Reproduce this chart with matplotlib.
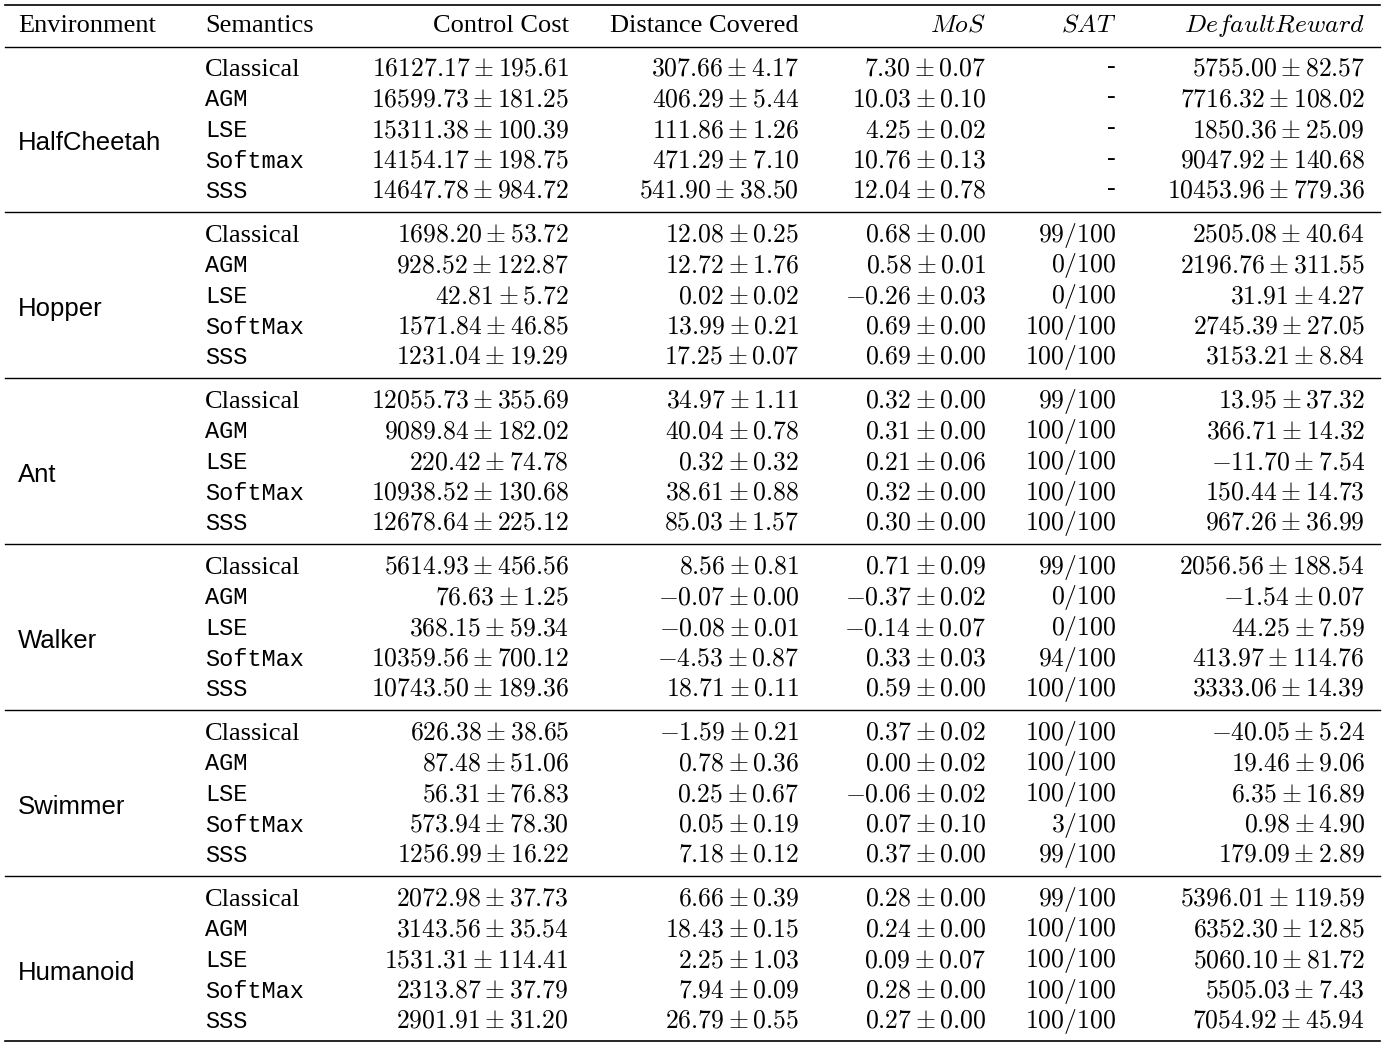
import matplotlib.pyplot as plt

plt.rcParams['mathtext.fontset'] = 'cm'

environments = ["HalfCheetah", "Hopper", "Ant", "Walker", "Swimmer", "Humanoid"]
semantics = [
    ["Classical", "AGM", "LSE", "Softmax", "SSS"],
    ["Classical", "AGM", "LSE", "SoftMax", "SSS"],
    ["Classical", "AGM", "LSE", "SoftMax", "SSS"],
    ["Classical", "AGM", "LSE", "SoftMax", "SSS"],
    ["Classical", "AGM", "LSE", "SoftMax", "SSS"],
    ["Classical", "AGM", "LSE", "SoftMax", "SSS"],
]
control_cost = [
    ["16127.17 \\pm 195.61", "16599.73 \\pm 181.25", "15311.38 \\pm 100.39", "14154.17 \\pm 198.75", "14647.78 \\pm 984.72"],
    ["1698.20 \\pm 53.72", "928.52 \\pm 122.87", "42.81 \\pm 5.72", "1571.84 \\pm 46.85", "1231.04 \\pm 19.29"],
    ["12055.73 \\pm 355.69", "9089.84 \\pm 182.02", "220.42 \\pm 74.78", "10938.52 \\pm 130.68", "12678.64 \\pm 225.12"],
    ["5614.93 \\pm 456.56", "76.63 \\pm 1.25", "368.15 \\pm 59.34", "10359.56 \\pm 700.12", "10743.50 \\pm 189.36"],
    ["626.38 \\pm 38.65", "87.48 \\pm 51.06", "56.31 \\pm 76.83", "573.94 \\pm 78.30", "1256.99 \\pm 16.22"],
    ["2072.98 \\pm 37.73", "3143.56 \\pm 35.54", "1531.31 \\pm 114.41", "2313.87 \\pm 37.79", "2901.91 \\pm 31.20"],
]
distance = [
    ["307.66 \\pm 4.17", "406.29 \\pm 5.44", "111.86 \\pm 1.26", "471.29 \\pm 7.10", "541.90 \\pm 38.50"],
    ["12.08 \\pm 0.25", "12.72 \\pm 1.76", "0.02 \\pm 0.02", "13.99 \\pm 0.21", "17.25 \\pm 0.07"],
    ["34.97 \\pm 1.11", "40.04 \\pm 0.78", "0.32 \\pm 0.32", "38.61 \\pm 0.88", "85.03 \\pm 1.57"],
    ["8.56 \\pm 0.81", "-0.07 \\pm 0.00", "-0.08 \\pm 0.01", "-4.53 \\pm 0.87", "18.71 \\pm 0.11"],
    ["-1.59 \\pm 0.21", "0.78 \\pm 0.36", "0.25 \\pm 0.67", "0.05 \\pm 0.19", "7.18 \\pm 0.12"],
    ["6.66 \\pm 0.39", "18.43 \\pm 0.15", "2.25 \\pm 1.03", "7.94 \\pm 0.09", "26.79 \\pm 0.55"],
]
mos = [
    ["7.30 \\pm 0.07", "10.03 \\pm 0.10", "4.25 \\pm 0.02", "10.76 \\pm 0.13", "12.04 \\pm 0.78"],
    ["0.68 \\pm 0.00", "0.58 \\pm 0.01", "-0.26 \\pm 0.03", "0.69 \\pm 0.00", "0.69 \\pm 0.00"],
    ["0.32 \\pm 0.00", "0.31 \\pm 0.00", "0.21 \\pm 0.06", "0.32 \\pm 0.00", "0.30 \\pm 0.00"],
    ["0.71 \\pm 0.09", "-0.37 \\pm 0.02", "-0.14 \\pm 0.07", "0.33 \\pm 0.03", "0.59 \\pm 0.00"],
    ["0.37 \\pm 0.02", "0.00 \\pm 0.02", "-0.06 \\pm 0.02", "0.07 \\pm 0.10", "0.37 \\pm 0.00"],
    ["0.28 \\pm 0.00", "0.24 \\pm 0.00", "0.09 \\pm 0.07", "0.28 \\pm 0.00", "0.27 \\pm 0.00"],
]
sat = [
    ["-", "-", "-", "-", "-"],
    ["99/100", "0/100", "0/100", "100/100", "100/100"],
    ["99/100", "100/100", "100/100", "100/100", "100/100"],
    ["99/100", "0/100", "0/100", "94/100", "100/100"],
    ["100/100", "100/100", "100/100", "3/100", "99/100"],
    ["99/100", "100/100", "100/100", "100/100", "100/100"],
]
reward = [
    ["5755.00 \\pm 82.57", "7716.32 \\pm 108.02", "1850.36 \\pm 25.09", "9047.92 \\pm 140.68", "10453.96 \\pm 779.36"],
    ["2505.08 \\pm 40.64", "2196.76 \\pm 311.55", "31.91 \\pm 4.27", "2745.39 \\pm 27.05", "3153.21 \\pm 8.84"],
    ["13.95 \\pm 37.32", "366.71 \\pm 14.32", "-11.70 \\pm 7.54", "150.44 \\pm 14.73", "967.26 \\pm 36.99"],
    ["2056.56 \\pm 188.54", "-1.54 \\pm 0.07", "44.25 \\pm 7.59", "413.97 \\pm 114.76", "3333.06 \\pm 14.39"],
    ["-40.05 \\pm 5.24", "19.46 \\pm 9.06", "6.35 \\pm 16.89", "0.98 \\pm 4.90", "179.09 \\pm 2.89"],
    ["5396.01 \\pm 119.59", "6352.30 \\pm 12.85", "5060.10 \\pm 81.72", "5505.03 \\pm 7.43", "7054.92 \\pm 45.94"],
]

W, H = 1383, 1047
fig = plt.figure(figsize=(W / 100, H / 100), dpi=100)
ax = fig.add_axes([0, 0, 1, 1])
ax.set_xlim(0, W)
ax.set_ylim(H, 0)
ax.axis('off')

fs = 18.5
serif = 'Liberation Serif'
sans = 'Liberation Sans'
mono = 'Liberation Mono'
bl = 8  # baseline offset below row centre


def put(x, y, s, ha, **kw):
    ax.text(x, y + bl, s, fontsize=kw.pop('fontsize', fs), va='baseline', ha=ha, **kw)


# header
hy = 24
put(18, hy, "Environment", 'left', family=serif, fontsize=fs + 0.5)
put(205, hy, "Semantics", 'left', family=serif, fontsize=fs + 0.5)
put(569, hy, "Control Cost", 'right', family=serif, fontsize=fs + 0.5)
put(799, hy, "Distance Covered", 'right', family=serif, fontsize=fs + 0.5)
put(986, hy, "$MoS$", 'right')
put(1116, hy, "$SAT$", 'right')
put(1365, hy, "$DefaultReward$", 'right')

# rules
ax.plot([5, 1380], [5, 5], color='black', lw=1.2)
ax.plot([5, 1380], [47, 47], color='black', lw=1.0)
for g in range(1, 6):
    y = 46 + 166 * g
    ax.plot([5, 1380], [y, y], color='black', lw=1.0)
ax.plot([5, 1380], [1041, 1041], color='black', lw=1.2)

for g, env in enumerate(environments):
    base = 68 + 166 * g
    ax.text(18, base + 75, env, family=sans, fontsize=fs, va='center', ha='left')
    for r in range(5):
        y = base + 30.5 * r
        name = semantics[g][r]
        if name == "Classical":
            put(205, y, name, 'left', family=serif, fontsize=fs + 0.5)
        else:
            put(205, y, name, 'left', family=mono, fontsize=fs - 1.5, fontweight='light')
        put(569, y, "$" + control_cost[g][r] + "$", 'right')
        put(799, y, "$" + distance[g][r] + "$", 'right')
        put(986, y, "$" + mos[g][r] + "$", 'right')
        s = sat[g][r]
        if s == "-":
            put(1116, y - 3, s, 'right', family=serif)
        else:
            put(1116, y, "$" + s + "$", 'right')
        put(1365, y, "$" + reward[g][r] + "$", 'right')

fig.savefig("out.png", dpi=100)
